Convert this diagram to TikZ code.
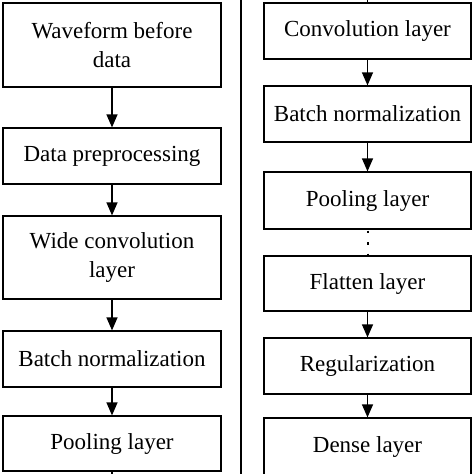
\documentclass[tikz,border=0pt]{standalone}
\usepackage{fontspec}
\setmainfont{Liberation Serif}
\usetikzlibrary{arrows.meta}
\tikzset{
  layerbox/.style={draw, line width=1.2pt, rectangle, inner sep=0pt, align=center,
    font=\fontsize{23}{29}\selectfont},
  leftbox/.style={layerbox, minimum width=218pt},
  rightbox/.style={layerbox, minimum width=207pt},
  flow/.style={line width=1.2pt, -{Triangle[length=13pt,width=11pt]}}
}
\begin{document}
\begin{tikzpicture}[x=1pt,y=-1pt]
\useasboundingbox (0,0) rectangle (474,474);
\clip (0,0) rectangle (474,474);
%Left column
\node [leftbox, minimum height=84pt] (wave) at (112,45) {Waveform before\\data};
\node [leftbox, minimum height=56pt] (prep) at (112,156) {Data preprocessing};
\node [leftbox, minimum height=83pt] (wide) at (112,257.5) {Wide convolution\\layer};
\node [leftbox, minimum height=56pt] (bnl) at (112,359) {Batch normalization};
\node [leftbox, minimum height=55pt] (pooll) at (112,443.5) {Pooling layer};
\coordinate (lend) at (112,480);
%Separator
\draw [line width=1.2pt] (241,-5) -- (241,480);
%Right column
\coordinate (rstart) at (367.5,-5);
\node [rightbox, minimum height=56pt] (conv) at (367.5,31) {Convolution layer};
\node [rightbox, minimum height=56pt] (bnr) at (367.5,114) {Batch normalization};
\node [rightbox, minimum height=57pt] (poolr) at (367.5,200.5) {Pooling layer};
\node [rightbox, minimum height=55pt] (flat) at (367.5,283.5) {Flatten layer};
\node [rightbox, minimum height=56pt] (reg) at (367.5,366) {Regularization};
\node [rightbox, minimum height=58pt] (dense) at (367.5,447) {Dense layer};
% Connectors
\draw [flow] (wave) -- (prep);
\draw [flow] (prep) -- (wide);
\draw [flow] (wide) -- (bnl);
\draw [flow] (bnl) -- (pooll);
\draw [line width=1.2pt] (pooll) -- (lend);
\draw [line width=1.2pt] (rstart) -- (conv);
\draw [flow] (conv) -- (bnr);
\draw [flow] (bnr) -- (poolr);
\draw [line width=2pt, dash pattern=on 2.5pt off 9pt, dash phase=-1pt] (poolr.south) -- (flat.north);
\draw [flow] (flat) -- (reg);
\draw [flow] (reg) -- (dense);
\end{tikzpicture}
\end{document}
